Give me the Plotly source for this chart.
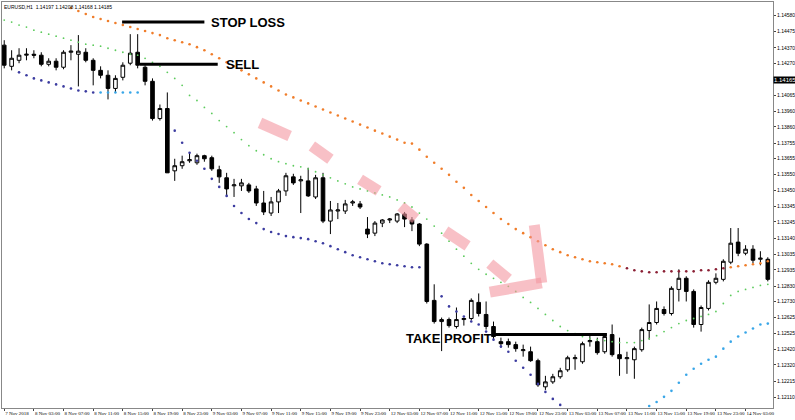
import numpy as np
import plotly.graph_objects as go

# OHLC in points (1e-5)
opens = [114388,114251,114290,114323,114329,114323,114264,114284,114245,114342,114329,114342,114290,114225,114193,114108,114180,114271,114342,114245,
         114154,113913,113978,113575,113608,113640,113627,113673,113660,113582,113530,113478,113478,113484,113458,113367,113302,113374,113445,113536,
         113510,113510,113406,113530,113250,113315,113315,113367,113361,113198,113172,113237,113257,113250,113296,113257,113231,113101,112737,112600,
         112613,112568,112613,112620,112724,112646,112568,112470,112470,112451,112412,112405,112347,112178,112210,112243,112288,112360,112340,112470,
         112470,112405,112516,112386,112360,112353,112418,112542,112594,112678,112652,112808,112880,112795,112581,112685,112854,112873,112984,113114,
         113042,113068,113003,113003]
highs = [114420,114355,114368,114368,114355,114342,114303,114303,114355,114388,114453,114368,114303,114251,114225,114193,114277,114459,114459,114258,
         114173,114004,114082,113653,113673,113692,113686,113679,113673,113608,113562,113523,113523,113497,113478,113445,113406,113458,113562,113556,
         113543,113595,113549,113562,113380,113367,113387,113387,113380,113276,113250,113263,113270,113302,113309,113276,113237,113107,112841,112626,
         112626,112691,112626,112750,112782,112730,112600,112496,112490,112470,112451,112438,112360,112249,112262,112301,112379,112386,112470,112516,
         112496,112516,112581,112496,112405,112438,112561,112711,112730,112698,112828,112938,112893,112808,112704,112867,112912,113003,113205,113205,
         113094,113094,113055,113016]
lows = [114238,114225,114271,114290,114303,114251,114251,114225,114232,114290,114121,114277,114128,114173,114037,114082,114160,114258,114238,114128,
        113900,113900,113562,113510,113588,113627,113614,113634,113575,113497,113406,113406,113445,113432,113348,113289,113283,113302,113413,113484,
        113302,113406,113393,113237,113166,113263,113296,113348,113328,113140,113153,113211,113237,113237,113211,113185,113088,112717,112587,112409,
        112561,112555,112574,112607,112633,112548,112483,112431,112431,112405,112373,112340,112178,112158,112197,112230,112275,112288,112327,112438,
        112386,112392,112373,112249,112262,112230,112405,112483,112581,112639,112639,112730,112730,112561,112535,112672,112841,112860,112971,113023,
        113029,112977,112964,112860]
closes = [114258,114303,114323,114329,114323,114264,114284,114245,114342,114349,114349,114290,114225,114193,114108,114173,114258,114336,114258,114154,
          113913,113978,113562,113608,113634,113647,113673,113653,113588,113536,113458,113484,113497,113445,113367,113309,113374,113445,113543,113497,
          113517,113413,113530,113250,113322,113322,113361,113374,113341,113166,113237,113257,113263,113296,113263,113231,113101,112730,112600,112613,
          112574,112613,112620,112737,112652,112568,112503,112457,112451,112425,112418,112347,112191,112210,112243,112282,112366,112366,112457,112477,
          112399,112503,112386,112360,112366,112425,112548,112594,112685,112652,112815,112880,112795,112581,112691,112854,112880,112990,113107,113042,
          113068,112997,113010,112873]

# moving average (green dotted)
ma = [114550,114537,114518,114505,114485,114472,114459,114446,114433,114420,114407,114394,114388,114381,114368,114355,114342,114329,114323,114303,
      114277,114251,114212,114173,114128,114063,114030,113985,113946,113900,113861,113822,113777,113738,113705,113679,113653,113634,113621,113608,
      113601,113588,113569,113549,113530,113510,113491,113471,113458,113445,113432,113419,113406,113387,113367,113341,113302,113263,113218,113172,
      113120,113068,113023,112977,112938,112906,112880,112854,112828,112795,112756,112724,112685,112646,112607,112568,112542,112522,112503,112490,
      112483,112477,112470,112464,112464,112464,112477,112490,112509,112535,112561,112587,112607,112620,112633,112646,112665,112717,112769,112795,
      112808,112821,112834,112841]

# upper dots (orange / dark red)
upper = [None]*9 + [114628,114609,114589,114570,114557,114544,114531,114518,114505,114492,114479,114466,114453,114433,114420,114407,114394,114375,114355,114329,
                    114303,114277,114251,114225,114199,114173,114147,114121,114095,114069,114050,114030,114011,113991,113972,113952,113933,113913,113894,113874,
                    113855,113835,113816,113796,113777,113757,
                    113751,113712,113666,113627,113588,113549,113504,113465,113419,113380,113341,113302,113263,113231,113198,113172,113146,113120,113094,113068,
                    113049,113029,113016,113003,112990,112984,112977,112971,112958,112945,112932,112925,112919,112919,112925,112925,112925,112925,112925,112932,
                    112932,112938,112945,112951,112958,112964,112971,112977,112990]

# lower dots (purple / blue)
lower = ([None]*2 + [114212,114193,114173,114160,114147,114134,114121,114108,114095,114089,114082,114082,114082,114082,114082,114082,114082]
         + [None]*4 + [113835,113757,113692,113640,113588,113523,113471,113413,113348,113302,113263,113237,113198,113179,113166,113153,113146,113140,
                       113133,113120,113107,113088,113068,113049,113029,113016,113003,112990,112977,112971,112964,112958,112951,112951]
         + [None]*2 + [112763,112698,112665,112633,112600,112581,112535,112483,112438,112405,112347,112301,112256,112197,112145,112100,112061,112028]
         + [None]*9 + [112028,112054,112080,112113,112152,112204,112256,112295,112327,112353,112373,112425,112470,112503,112529,112555,112581,112587])

tick_prices = [114580,114475,114370,114270,114065,113960,113860,113755,113655,113550,113450,113345,113245,113140,113035,
               112935,112830,112730,112625,112525,112420,112320,112215,112110,112010]
time_labels = ['7 Nov 2018','8 Nov 03:00','8 Nov 07:00','8 Nov 11:00','8 Nov 15:00','8 Nov 19:00','8 Nov 23:00',
               '9 Nov 03:00','9 Nov 07:00','9 Nov 11:00','9 Nov 15:00','9 Nov 19:00','9 Nov 23:00',
               '12 Nov 03:00','12 Nov 07:00','12 Nov 11:00','12 Nov 15:00','12 Nov 19:00','12 Nov 23:00',
               '13 Nov 03:00','13 Nov 07:00','13 Nov 11:00','13 Nov 15:00','13 Nov 19:00','13 Nov 23:00','14 Nov 03:00']

def pr(v):
    return [None if a is None else a / 1e5 for a in v]

x = list(range(len(opens)))

fig = go.Figure()

fig.add_trace(go.Scatter(x=x, y=pr(ma), mode='markers', marker=dict(color='#5ccb5c', size=1.8),
                         hoverinfo='skip', showlegend=False))

up_colors = ['#8b2035' if 84 <= i <= 97 else '#f07d2a' for i in range(len(upper))]
fig.add_trace(go.Scatter(x=list(range(len(upper))), y=pr(upper), mode='markers',
                         marker=dict(color=up_colors, size=2.6), hoverinfo='skip', showlegend=False))

lo_colors = ['#38a6e8' if (i >= 86 or 13 <= i <= 18) else '#3c3ca0' for i in range(len(lower))]
fig.add_trace(go.Scatter(x=list(range(len(lower))), y=pr(lower), mode='markers',
                         marker=dict(color=lo_colors, size=2.6), hoverinfo='skip', showlegend=False))

fig.add_trace(go.Candlestick(x=x, open=pr(opens), high=pr(highs), low=pr(lows), close=pr(closes),
                             increasing=dict(line=dict(color='black', width=1), fillcolor='white'),
                             decreasing=dict(line=dict(color='black', width=1), fillcolor='black'),
                             whiskerwidth=0, showlegend=False))

# pink hand-drawn dashes
pink = 'rgba(244,150,160,0.6)'
strokes = [([34.5, 38.5], [1.13885, 1.13800]), ([41.5, 44], [1.13735, 1.13650]),
           ([48, 50.5], [1.13520, 1.13445]), ([53.5, 55.5], [1.13345, 1.13265]),
           ([59.5, 62.5], [1.13185, 1.13090]), ([65.5, 68], [1.12975, 1.12875]),
           ([65.5, 70.5, 72.5], [1.12790, 1.12830, 1.12850]), ([72.5, 71.5], [1.12850, 1.13225])]
for sx, sy in strokes:
    fig.add_trace(go.Scatter(x=sx, y=sy, mode='lines', line=dict(color=pink, width=11),
                             hoverinfo='skip', showlegend=False))

# level lines
levels = [([15.9, 27.0], 1.14537), ([18.3, 28.8], 1.14264), ([65.9, 81.3], 1.12516)]
for lx, ly in levels:
    fig.add_trace(go.Scatter(x=lx, y=[ly, ly], mode='lines', line=dict(color='black', width=3),
                             hoverinfo='skip', showlegend=False))

lab_font = dict(family='Liberation Sans Narrow, Arial Narrow, Liberation Sans', size=13, color='black')
fig.add_annotation(x=27.6, y=1.14537, text='<b>STOP LOSS</b>', showarrow=False, xanchor='left', font=lab_font)
fig.add_annotation(x=29.6, y=1.14264, text='<b>SELL</b>', showarrow=False, xanchor='left', font=lab_font)
fig.add_annotation(x=66.0, y=1.12490, text='<b>TAKE PROFIT</b>', showarrow=False, xanchor='right', font=lab_font)
fig.add_annotation(x=0, y=1, xref='paper', yref='paper', xanchor='left', yanchor='top',
                   text='EURUSD,H1  1.14197 1.14208 1.14168 1.14185', showarrow=False,
                   font=dict(size=5, color='black'))
fig.add_annotation(x=1.0, y=1.14165, xref='paper', xanchor='left', text='1.14165', showarrow=False,
                   bgcolor='black', font=dict(size=6, color='white'), borderpad=0)

fig.update_layout(width=795, height=420, margin=dict(l=2, r=22, t=2, b=12),
                  paper_bgcolor='white', plot_bgcolor='white',
                  font=dict(family='Liberation Sans', size=5, color='black'))
fig.update_xaxes(range=[-0.3, 103.7], tickvals=list(range(0, 104, 4)), ticktext=time_labels,
                 showgrid=False, rangeslider_visible=False, showline=True, linecolor='#888',
                 mirror=True, ticks='outside', ticklen=2, tickangle=0, ticklabelposition='outside right',
                 tickfont=dict(size=5, family='Liberation Sans Narrow'), automargin=False)
fig.update_yaxes(range=[1.12041, 1.14667], side='right', tickvals=pr(tick_prices),
                 tickformat='.5f', showgrid=False, showline=True, linecolor='#888', mirror=True,
                 ticks='outside', ticklen=2, tickfont=dict(size=5), automargin=False)

# drop the default page margin so the figure sits at the window corner
fig.write_html("out.html", config={'displayModeBar': False},
               post_script="document.body.style.margin='0';")
